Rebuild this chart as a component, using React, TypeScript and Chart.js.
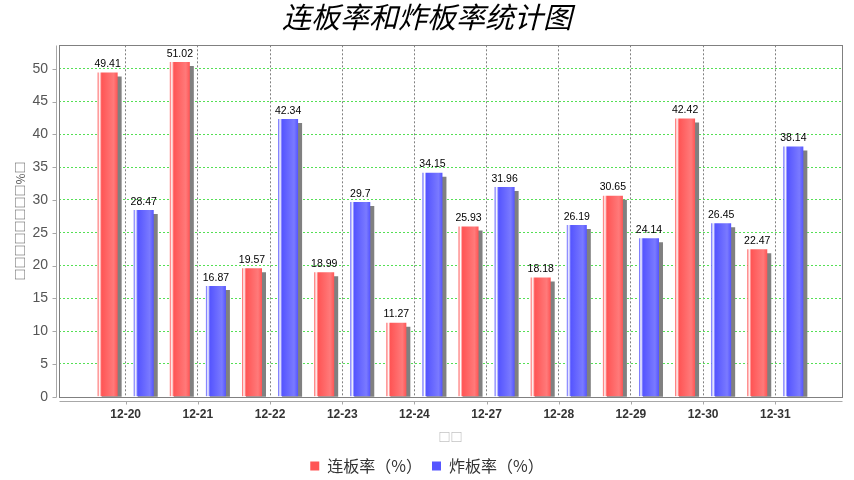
import React, { useEffect, useRef } from "react";
import { Chart, registerables } from "chart.js";

Chart.register(...registerables);

const categories = ["12-20", "12-21", "12-22", "12-23", "12-24", "12-27", "12-28", "12-29", "12-30", "12-31"];
const lianbanRate = [49.41, 51.02, 19.57, 18.99, 11.27, 25.93, 18.18, 30.65, 42.42, 22.47];
const zhabanRate = [28.47, 16.87, 42.34, 29.7, 34.15, 31.96, 26.19, 24.14, 26.45, 38.14];
const seriesLabels = ["连板率（%）", "炸板率（%）"];
const titleText = "连板率和炸板率统计图";
const yAxisTitle = "□□□□□□□□%□";
const xAxisTitle = "□□";

const seriesValues = [lianbanRate, zhabanRate];
const palette = [
  { base: "#ff5555", light: "#ff7a7a" },
  { base: "#5555ff", light: "#7a7aff" },
];

// jfree style: 5% headroom above the tallest bar, category margins on both sides
const yMax = Math.max(...lianbanRate, ...zhabanRate) * 1.05;
const xMargin = 0.924;

const cjk = '"Noto Sans CJK SC", sans-serif';
const latin = '"Liberation Sans", Arial, sans-serif';

function barFill(ctx: CanvasRenderingContext2D, x0: number, x1: number, c: { base: string; light: string }) {
  const g = ctx.createLinearGradient(x0, 0, x1, 0);
  g.addColorStop(0, c.base);
  g.addColorStop(0.1, "#ffffff");
  g.addColorStop(0.2, c.base);
  g.addColorStop(0.8, c.light);
  g.addColorStop(1, c.base);
  return g;
}

const jfreeLook = {
  id: "jfreeLook",
  beforeDatasetsDraw(chart: any) {
    // each bar has its own options object (backgroundColor is scriptable), so a per-bar gradient works
    chart.data.datasets.forEach((_: any, di: number) => {
      chart.getDatasetMeta(di).data.forEach((el: any) => {
        const half = el.width / 2;
        el.options = { ...el.options, backgroundColor: barFill(chart.ctx, el.x - half, el.x + half, palette[di]) };
      });
    });
  },
  beforeDatasetDraw(chart: any) {
    const ctx = chart.ctx;
    const r = chart.currentDevicePixelRatio || 1;
    ctx.save();
    ctx.shadowColor = "#808080";
    ctx.shadowBlur = 0;
    ctx.shadowOffsetX = 4 * r;
    ctx.shadowOffsetY = 4 * r;
  },
  afterDatasetDraw(chart: any) {
    chart.ctx.restore();
  },
  afterDatasetsDraw(chart: any) {
    const { ctx, chartArea: a, scales } = chart;
    ctx.save();

    // value labels
    ctx.font = "10.5px " + latin;
    ctx.fillStyle = "#000";
    ctx.textAlign = "center";
    ctx.textBaseline = "bottom";
    chart.data.datasets.forEach((_: any, di: number) => {
      chart.getDatasetMeta(di).data.forEach((el: any, i: number) => {
        ctx.fillText(String(seriesValues[di][i]), el.x, el.y - 3);
      });
    });

    // plot outline
    ctx.lineWidth = 1;
    ctx.strokeStyle = "#808080";
    const l = Math.round(a.left) + 0.5;
    const t = Math.round(a.top) + 0.5;
    const rr = Math.round(a.right) + 0.5;
    const b = Math.round(a.bottom) + 0.5;
    ctx.strokeRect(l, t, rr - l, b - t);

    // axes sit a few px away from the plot
    ctx.strokeStyle = "#a8a8a8";
    ctx.beginPath();
    const ax = l - 3;
    ctx.moveTo(ax, t);
    ctx.lineTo(ax, b);
    scales.y.ticks.forEach((tk: any) => {
      const py = Math.round(scales.y.getPixelForValue(tk.value)) + 0.5;
      ctx.moveTo(ax - 4, py);
      ctx.lineTo(ax, py);
    });
    const ay = b + 4;
    ctx.moveTo(l, ay);
    ctx.lineTo(rr, ay);
    scales.x.ticks.forEach((tk: any) => {
      const px = Math.round(scales.x.getPixelForValue(tk.value)) + 0.5;
      ctx.moveTo(px, ay);
      ctx.lineTo(px, ay + 3);
    });
    ctx.stroke();
    ctx.restore();
  },
};

export default function App() {
  const canvasRef = useRef<HTMLCanvasElement>(null);

  useEffect(() => {
    document.body.style.margin = "0";
    if (!canvasRef.current) return;

    const chart = new Chart(canvasRef.current, {
      type: "bar",
      data: {
        datasets: seriesLabels.map((label, di) => ({
          label,
          data: seriesValues[di].map((v, i) => ({ x: i, y: v })),
          backgroundColor: palette[di].base,
          borderWidth: 0,
          categoryPercentage: 1.0,
          barPercentage: 0.554,
          clip: 0,
        })),
      },
      options: {
        responsive: false,
        animation: false,
        events: [],
        layout: { padding: { left: 12, right: 12, top: 0, bottom: 0 } },
        plugins: {
          title: {
            display: true,
            text: titleText,
            color: "#000",
            font: { family: cjk, size: 29, style: "italic", weight: "normal", lineHeight: 1.2 },
            padding: { top: 0, bottom: 10.5 },
          },
          legend: {
            position: "bottom",
            maxHeight: 32,
            labels: {
              boxWidth: 9,
              boxHeight: 9,
              padding: 10,
              color: "#333",
              font: { family: cjk, size: 16 },
            },
          },
          tooltip: { enabled: false },
        },
        scales: {
          x: {
            type: "linear",
            min: -xMargin,
            max: categories.length - 1 + xMargin,
            bounds: "data",
            offset: false,
            afterBuildTicks: (s: any) => {
              s.ticks = categories.map((_, i) => ({ value: i }));
            },
            afterFit: (s: any) => {
              s.height = 51.3;
            },
            grid: { color: "#808080", drawTicks: false, offset: false },
            border: { display: false, dash: [2, 2] },
            ticks: {
              padding: 11,
              autoSkip: false,
              maxRotation: 0,
              color: "#333",
              font: { family: latin, size: 12, weight: "bold" },
              callback: (v: any) => categories[v] ?? "",
            },
            title: {
              display: true,
              text: xAxisTitle,
              color: "#aaa",
              font: { family: cjk, size: 12 },
              padding: { top: 0, bottom: 3 },
            },
          },
          y: {
            min: 0,
            max: yMax,
            bounds: "data",
            afterFit: (s: any) => {
              s.width = 47;
            },
            grid: {
              color: (c: any) => (c.tick && c.tick.value === 0 ? "rgba(0,0,0,0)" : "#55e055"),
              drawTicks: false,
            },
            border: { display: false, dash: [2, 2] },
            ticks: {
              stepSize: 5,
              includeBounds: false,
              padding: 11,
              color: "#555",
              font: { family: latin, size: 14 },
            },
            title: {
              display: true,
              text: yAxisTitle,
              color: "#555",
              font: { family: cjk, size: 12 },
              padding: { top: 1, bottom: 0 },
            },
          },
        },
      } as any,
      plugins: [jfreeLook],
    });

    return () => chart.destroy();
  }, []);

  return (
    <div style={{ width: 854, height: 480 }}>
      <canvas ref={canvasRef} width={854} height={480} style={{ display: "block" }} />
    </div>
  );
}
